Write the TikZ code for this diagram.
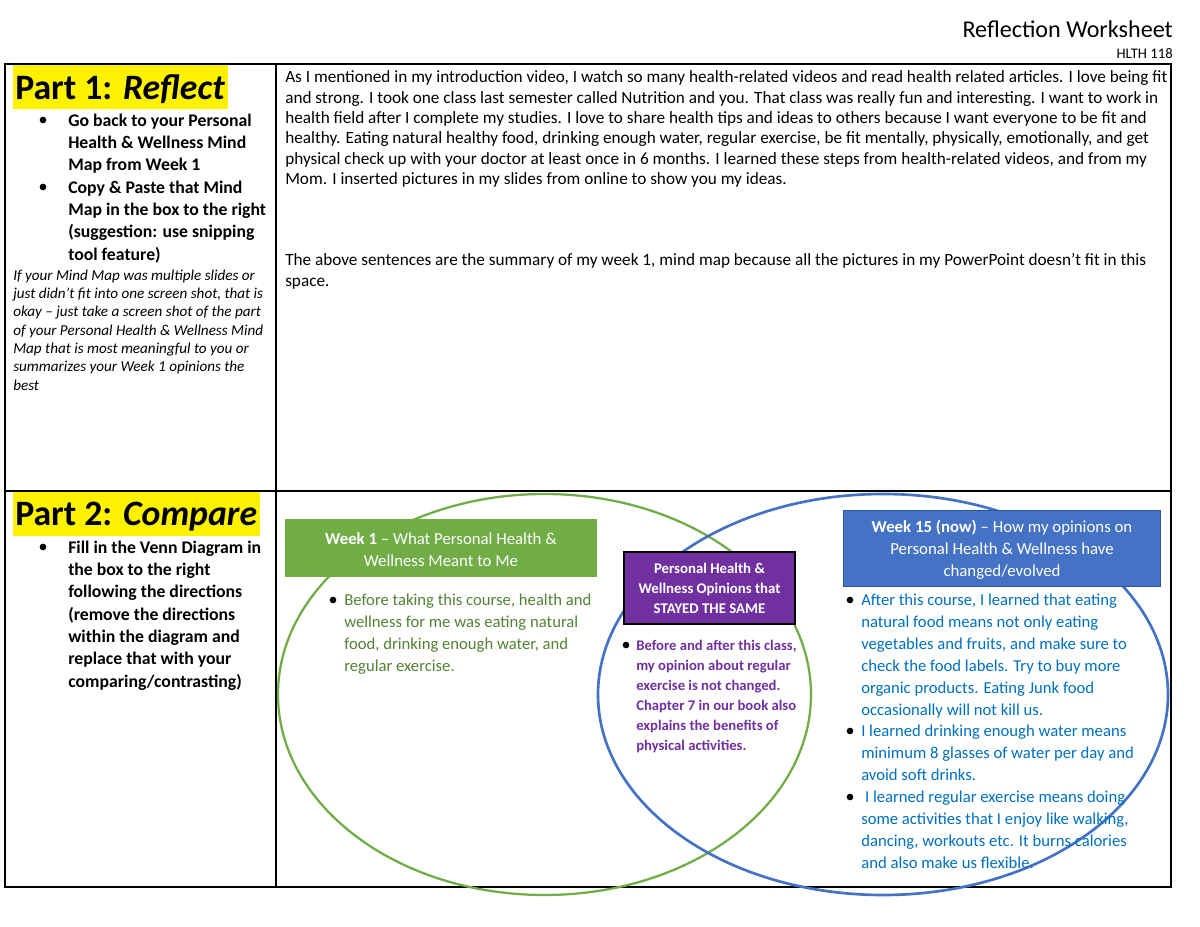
\documentclass[tikz,border=0pt]{standalone}
\usepackage{fontspec}
\setmainfont{Carlito}
\definecolor{gbox}{HTML}{70AD47}
\definecolor{bbox}{HTML}{4472C4}
\definecolor{bedge}{HTML}{2F5597}
\definecolor{pbox}{HTML}{7030A0}
\definecolor{gtext}{HTML}{538135}
\definecolor{btext}{HTML}{0070C0}
\tikzset{
  txt/.style={anchor=north west,inner sep=0pt,align=left},
  body/.style={txt,font=\fontsize{12.9}{15.25}\selectfont},
  lefttxt/.style={txt,font=\fontsize{13.3}{16.75}\selectfont\bfseries},
  note/.style={txt,font=\fontsize{11.35}{13.75}\selectfont\itshape},
  venn/.style={txt,font=\fontsize{12.5}{16.4}\selectfont},
  headbg/.style={anchor=north west,inner sep=0pt,fill=yellow},
  head/.style={anchor=west,inner sep=0pt,font=\fontsize{26.8}{28}\selectfont\bfseries},
  bul/.style={circle,fill=black,inner sep=0pt,minimum size=5pt},
  cellline/.style={line width=1.5pt,draw=black},
  boxtxt/.style={anchor=north west,inner sep=0pt,align=center,text=white,font=\fontsize{12.6}{16.4}\selectfont},
}
\begin{document}
\begin{tikzpicture}[x=0.75pt,y=-0.75pt]
\useasboundingbox (0,0) rectangle (1200,927);
\fill[white] (0,0) rectangle (1200,927);
% header
\node[anchor=east,inner sep=0pt,font=\fontsize{18.1}{20}\selectfont] (title) at (1173,29) {Reflection Worksheet};
\node[anchor=east,inner sep=0pt,font=\fontsize{11}{12}\selectfont] (course) at (1173,54) {HLTH 118};
% table
\draw[cellline] (5,64) rectangle (1171,887);
\draw[cellline] (276,64) -- (276,887);
\draw[cellline] (5,490.5) -- (1171,490.5);
% left column
\node[headbg,minimum width=161.25pt,minimum height=33pt] (p1bg) at (13,65) {};
\node[head] (p1) at (15,89) {Part 1: \textit{Reflect}};
\node[bul] (b1) at (43,120) {};
\node[lefttxt] (t1) at (68,113.5) {Go back to your Personal\\Health \& Wellness Mind\\Map from Week 1};
\node[bul] (b2) at (43,187) {};
\node[lefttxt] (t2) at (68,180.5) {Copy \& Paste that Mind\\Map in the box to the right\\(suggestion: use snipping\\tool feature)};
\node[note] (n1) at (13,269.5) {If your Mind Map was multiple slides or\\just didn’t fit into one screen shot, that is\\okay – just take a screen shot of the part\\of your Personal Health \& Wellness Mind\\Map that is most meaningful to you or\\summarizes your Week 1 opinions the\\best};
\node[headbg,minimum width=185.25pt,minimum height=33pt] (p2bg) at (13,491.5) {};
\node[head] (p2) at (15,517) {Part 2: \textit{Compare}};
\node[bul] (b3) at (43,547) {};
\node[lefttxt] (t3) at (68,540.5) {Fill in the Venn Diagram in\\the box to the right\\following the directions\\(remove the directions\\within the diagram and\\replace that with your\\comparing/contrasting)};
% right of part 1
\node[body] (r1) at (285,70.5) {As I mentioned in my introduction video, I watch so many health-related videos and read health related articles. I love being fit\\and strong. I took one class last semester called Nutrition and you. That class was really fun and interesting. I want to work in\\health field after I complete my studies. I love to share health tips and ideas to others because I want everyone to be fit and\\healthy. Eating natural healthy food, drinking enough water, regular exercise, be fit mentally, physically, emotionally, and get\\physical check up with your doctor at least once in 6 months. I learned these steps from health-related videos, and from my\\Mom. I inserted pictures in my slides from online to show you my ideas.};
\node[body] (r2) at (285,253.5) {The above sentences are the summary of my week 1, mind map because all the pictures in my PowerPoint doesn’t fit in this\\space.};
% venn
\draw[gbox,line width=1.7pt] (544.5,694.5) ellipse [x radius=266.5,y radius=200.5];
\draw[bbox,line width=2pt] (883,694.5) ellipse [x radius=285,y radius=200.5];
\node[draw=gbox,fill=gbox,minimum width=233pt,minimum height=43pt,inner sep=0pt] (gb) at (441,548) {};
\node[boxtxt,anchor=center] (gbt) at (441,549.5) {\textbf{Week 1} – What Personal Health \&\\Wellness Meant to Me};
\node[draw=bedge,fill=bbox,line width=1pt,minimum width=238pt,minimum height=57pt,inner sep=0pt] (bb) at (1002,548.5) {};
\node[boxtxt,anchor=center] (bbt) at (1002,550) {\textbf{Week 15 (now)} – How my opinions on\\Personal Health \& Wellness have\\changed/evolved};
\node[draw=black,fill=pbox,line width=1.5pt,minimum width=128pt,minimum height=54pt,inner sep=0pt] (pb) at (709.5,588) {};
\node[boxtxt,anchor=center,font=\fontsize{11.1}{15}\selectfont\bfseries] (pbt) at (pb.center) {Personal Health \&\\Wellness Opinions that\\STAYED THE SAME};
% venn texts
\node[bul] (b4) at (333,600) {};
\node[venn,text=gtext] (g1) at (344,594) {Before taking this course, health and\\wellness for me was eating natural\\food, drinking enough water, and\\regular exercise.};
\node[bul] (b5) at (626,645) {};
\node[venn,text=pbox,font=\fontsize{11}{15}\selectfont\bfseries] (v1) at (636,640) {Before and after this class,\\my opinion about regular\\exercise is not changed.\\Chapter 7 in our book also\\explains the benefits of\\physical activities.};
\node[bul] (b6) at (850,600) {};
\node[venn,text=btext] (a1) at (861,594) {After this course, I learned that eating\\natural food means not only eating\\vegetables and fruits, and make sure to\\check the food labels. Try to buy more\\organic products. Eating Junk food\\occasionally will not kill us.};
\node[bul] (b7) at (850,731) {};
\node[venn,text=btext] (a2) at (861,725) {I learned drinking enough water means\\minimum 8 glasses of water per day and\\avoid soft drinks.};
\node[bul] (b8) at (850,797) {};
\node[venn,text=btext] (a3) at (861,791) {\ I learned regular exercise means doing\\some activities that I enjoy like walking,\\dancing, workouts etc. It burns calories\\and also make us flexible.};
\end{tikzpicture}
\end{document}
